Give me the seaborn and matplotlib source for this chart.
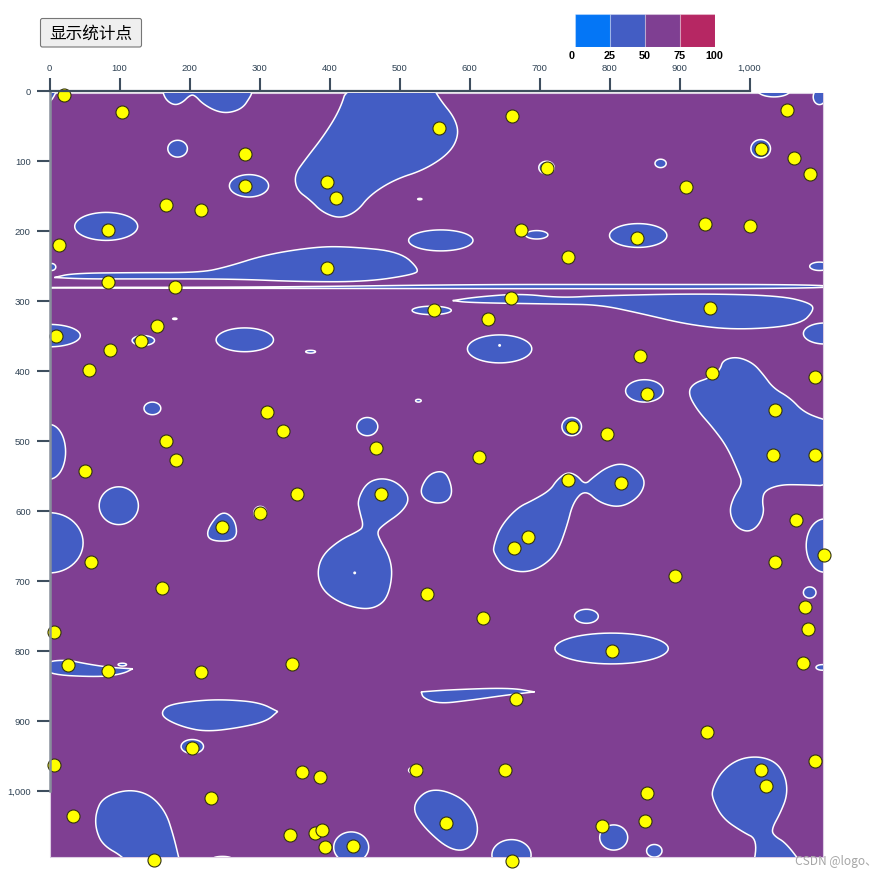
import numpy as np
import pandas as pd
import matplotlib
matplotlib.use("Agg")
import matplotlib.pyplot as plt
from matplotlib.patches import Rectangle, FancyBboxPatch, Polygon
from matplotlib.transforms import ScaledTranslation
import seaborn as sns

# ---------- data ----------
point_x = [20,104,557,660,1053,279,279,397,409,710,1017,1063,1087,909,166,216,83,14,674,936,1000,839,740,397,83,179,659,943,549,627,153,9,131,86,57,843,947,1093,854,311,1036,334,746,797,167,466,181,613,1033,1093,50,740,816,353,474,301,1066,246,683,663,1106,59,1037,894,161,539,1079,619,1084,7,804,26,83,216,346,1076,667,939,204,7,1093,360,386,523,651,854,1016,1024,231,33,789,851,566,343,379,389,393,433,149,661]
point_y = [6,31,54,36,27,90,136,130,153,110,83,96,119,137,163,171,199,221,199,190,194,210,237,253,274,281,296,311,314,326,336,351,357,371,399,379,403,409,434,459,456,486,480,490,500,511,527,523,521,521,544,556,561,576,576,603,613,623,637,654,663,674,674,693,711,719,737,753,769,773,800,820,829,830,819,817,869,916,939,963,957,973,981,971,970,1004,971,993,1011,1036,1050,1043,1046,1063,1061,1056,1081,1079,1099,1100]

# round regions: centre x, centre y, radius x, radius y
region_cx = [183,873,1016,285,81,559,696,841,279,643,373,147,454,746,850,99,767,1086,204,806,864,301,431,660,1035,1100,247,523,529,179,527,3,1100,0,134,1107,546,0,0,1107,1104,104,803,710,436,643]
region_cy = [83,104,83,136,194,214,206,207,356,369,373,454,480,480,429,593,751,717,937,1067,1086,603,1081,1092,0,9,1097,971,155,326,443,252,251,350,357,347,314,516,646,650,824,820,797,110,689,364]
region_rx = [14,8,14,28,45,46,16,41,41,46,7,12,15,14,27,28,17,9,16,20,11,9,25,28,23,9,13,10,3,3,4,6,14,44,16,30,28,23,48,26,9,6,81,11,1,1]
region_ry = [12,6,13,16,20,15,6,17,17,20,2,9,13,13,16,27,10,8,10,18,9,9,22,22,9,11,3,5,1,1,2,5,6,16,7,15,6,39,43,38,4,2,22,9,1,1]

# free-form regions: outlines
top_centre = [(426,-8),(415,27),(393,63),(365,99),(350,120),(353,142),(372,156),(390,174),(415,183),(439,173),(458,149),(493,127),(536,113),(572,89),(585,63),(579,39),(558,13),(546,-8)]
top_left = [(-5,-5),(12,-5),(6,10),(-5,22)]
top_pair = [(161,-10),(162,4),(168,15),(179,21),(190,17),(200,7),(207,6),(219,19),(239,30),(257,32),(276,25),(286,10),(289,4),(290,-10)]
band_left = [(7,267),(7,267),(33,261),(119,260),(215,260),(253,252),(310,234),(382,223),(429,223),(501,230),(529,256),(519,263),(453,273),(358,273),(262,269),(119,269),(47,269)]
band_thin = [(-5,281),(300,281),(600,277),(800,277),(1115,277),(1115,283),(600,283),(-5,282)]
band_right = [(576,300),(576,300),(608,295),(672,290),(729,296),(786,293),(929,290),(1043,293),(1086,303),(1093,313),(1072,335),(986,342),(915,335),(843,318),(786,306),(729,305),(600,303)]
right_big = [(958,399),(962,385),(982,380),(1005,389),(1020,406),(1034,425),(1058,439),(1077,459),(1105,470),(1123,473),(1123,565),(1073,563),(1044,563),(1022,571),(1018,585),(1021,603),(1012,623),(997,631),(980,623),(971,602),(977,581),(990,561),(984,545),(968,509),(948,482),(925,456),(912,432),(920,418),(944,410)]
peanut_left = [(440,585),(453,560),(475,553),(498,560),(515,581),(505,601),(476,621),(468,630),(472,642),(486,666),(490,692),(483,724),(468,738),(446,741),(415,732),(390,714),(382,689),(390,663),(415,642),(440,630),(449,623),(443,601)]
peanut_right = [(634,652),(644,623),(668,596),(691,585),(715,571),(725,556),(739,545),(753,549),(765,563),(776,553),(796,538),(818,532),(841,542),(852,560),(841,582),(815,596),(786,589),(765,570),(748,588),(739,623),(725,661),(701,682),(675,689),(648,681),(635,661)]
small_a = [(246,599),(266,613),(268,643),(229,644),(224,628)]
small_b = [(529,571),(541,549),(558,543),(569,549),(576,573),(569,587),(553,590),(536,585)]
oval_low = [(160,887),(171,877),(215,871),(253,870),(300,874),(326,887),(326,887),(310,901),(272,910),(224,916),(190,909),(164,897)]
thin_mid = [(531,859),(531,859),(571,856),(657,853),(693,859),(693,859),(657,863),(600,871),(557,876),(534,868)]
thin_left = [(-6,816),(24,813),(53,819),(86,824),(119,826),(119,826),(105,833),(72,838),(-6,834)]
bottom_left = [(66,1032),(76,1010),(111,998),(143,1005),(166,1030),(177,1064),(185,1097),(190,1120),(125,1120),(106,1095),(76,1078),(66,1055)]
bottom_mid = [(517,1025),(536,1000),(565,999),(600,1018),(615,1056),(600,1085),(572,1085),(536,1054)]
bottom_right = [(946,999),(961,971),(986,954),(1015,951),(1039,960),(1052,981),(1054,1007),(1044,1032),(1032,1054),(1034,1064),(1054,1076),(1085,1120),(1003,1120),(1012,1070),(990,1059),(962,1040),(948,1014)]
free_regions = [top_centre, top_left, top_pair, band_left, band_thin, band_right, right_big, peanut_left, peanut_right, small_a, small_b, oval_low, thin_mid, thin_left, bottom_left, bottom_mid, bottom_right]

x_ticks = list(range(0, 1001, 100))
y_ticks = list(range(0, 1001, 100))
legend_values = [0, 25, 50, 75, 100]
legend_mid = [12.5, 37.5, 62.5, 87.5]
legend_colors = ["#0476F6", "#435DC4", "#7F3F92", "#B62763"]
button_label = "显示统计点"
watermark = "CSDN @logo、"

FILL_LOW = "#435DC4"
FILL_MID = "#7F3F92"
AXIS = "#3E4E5E"
W, H = 886, 878

# ---------- figure ----------
sns.set_theme(style="white")
plt.rcParams['font.family'] = ['Liberation Sans', 'Noto Sans CJK SC', 'DejaVu Sans']

fig = plt.figure(figsize=(W/100, H/100), dpi=100, facecolor="white")
ax = fig.add_axes([49.5/W, 1-858/H, 773.5/W, 766.4/H])
x_max, y_max = 773.5/0.7, 766.4/0.7
ax.set_xlim(0, x_max)
ax.set_ylim(y_max, 0)
ax.set_facecolor("none")


def smooth(pts, n=3):
    p = np.asarray(pts, float)
    for _ in range(n):
        q = np.roll(p, -1, axis=0)
        p = np.column_stack([0.75*p + 0.25*q, 0.25*p + 0.75*q]).reshape(-1, 2)
    return p


field = Rectangle((1, 3), x_max-1, y_max-3, fc=FILL_MID, ec="#DCCDE3", lw=0.8, zorder=1, clip_on=False)
ax.add_patch(field)


def add_region(xy):
    poly = Polygon(xy, closed=True, fc=FILL_LOW, ec="white", lw=1.1, zorder=2)
    ax.add_patch(poly)
    poly.set_clip_path(field)


for outline in free_regions:
    add_region(smooth(outline))
t = np.linspace(0, 2*np.pi, 60)
for cx, cy, rx, ry in zip(region_cx, region_cy, region_rx, region_ry):
    add_region(np.column_stack([cx + rx*np.cos(t), cy + ry*np.sin(t)]))

pts = pd.DataFrame({"x": point_x, "y": point_y})
sns.scatterplot(data=pts, x="x", y="y", ax=ax, s=88, color="#FFFF00",
                edgecolor="#333310", linewidth=0.8, zorder=4, clip_on=False)
ax.set_xlabel("")
ax.set_ylabel("")

# axes
for s in ["right", "bottom"]:
    ax.spines[s].set_visible(False)
ax.spines["top"].set_bounds(0, 1000)
ax.spines["top"].set_color(AXIS)
ax.spines["top"].set_linewidth(1.6)
ax.spines["left"].set_bounds(0, 1000)
ax.spines["left"].set_color("#87909B")
ax.spines["left"].set_linewidth(1.8)
ax.spines["top"].set_zorder(5)
ax.spines["left"].set_zorder(5)
ax.xaxis.tick_top()
ax.set_xticks(x_ticks)
ax.set_xticklabels([f"{v:,}" for v in x_ticks])
ax.set_yticks(y_ticks)
ax.set_yticklabels([f"{v:,}" for v in y_ticks])
ax.tick_params(axis="both", which="major", length=9.5, width=1.5, color=AXIS,
               labelcolor="#2F4254", labelsize=6.8, pad=4)
ax.tick_params(axis="both", bottom=False, right=False, top=True, left=True)

# colour legend
lax = fig.add_axes([574.5/W, 1-48/H, 140/W, 33/H])
sns.barplot(x=legend_mid, y=[1, 1, 1, 1], ax=lax, native_scale=True,
            width=1, hue=legend_mid, palette=legend_colors, legend=False, saturation=1,
            dodge=False, edgecolor=(1, 1, 1, 0.3), linewidth=0.8)
lax.set_xlim(0, 100)
lax.set_ylim(0, 1)
lax.set_xlabel("")
lax.set_ylabel("")
for s in lax.spines.values():
    s.set_visible(False)
lax.set_yticks([])
lax.set_xticks(legend_values)
lax.set_xticklabels([str(v) for v in legend_values], fontsize=7.8, fontweight="bold", color="black")
lax.get_xticklabels()[0].set_ha("right")
last = lax.get_xticklabels()[-1]
last.set_transform(last.get_transform() + ScaledTranslation(2.5/100, 0, fig.dpi_scale_trans))
lax.tick_params(axis="x", length=0, pad=2.5)

# button
bax = fig.add_axes([0, 0, 1, 1], facecolor="none")
bax.set_xlim(0, W)
bax.set_ylim(H, 0)
bax.axis("off")
bax.add_patch(FancyBboxPatch((40.5, 19.5), 101, 28.5, boxstyle="round,pad=0,rounding_size=2",
                             fc="#EFEFEF", ec="#767676", lw=0.8))
bax.text(91, 34, button_label, ha="center", va="center", fontsize=12, color="black",
         family=['Noto Sans CJK SC', 'DejaVu Sans'])
bax.text(795, 861.5, watermark, ha="left", va="center", fontsize=8.6, color="#A6A6A6",
         family=['Noto Sans CJK SC', 'DejaVu Sans'], zorder=6)

fig.savefig("out.png", dpi=100)
